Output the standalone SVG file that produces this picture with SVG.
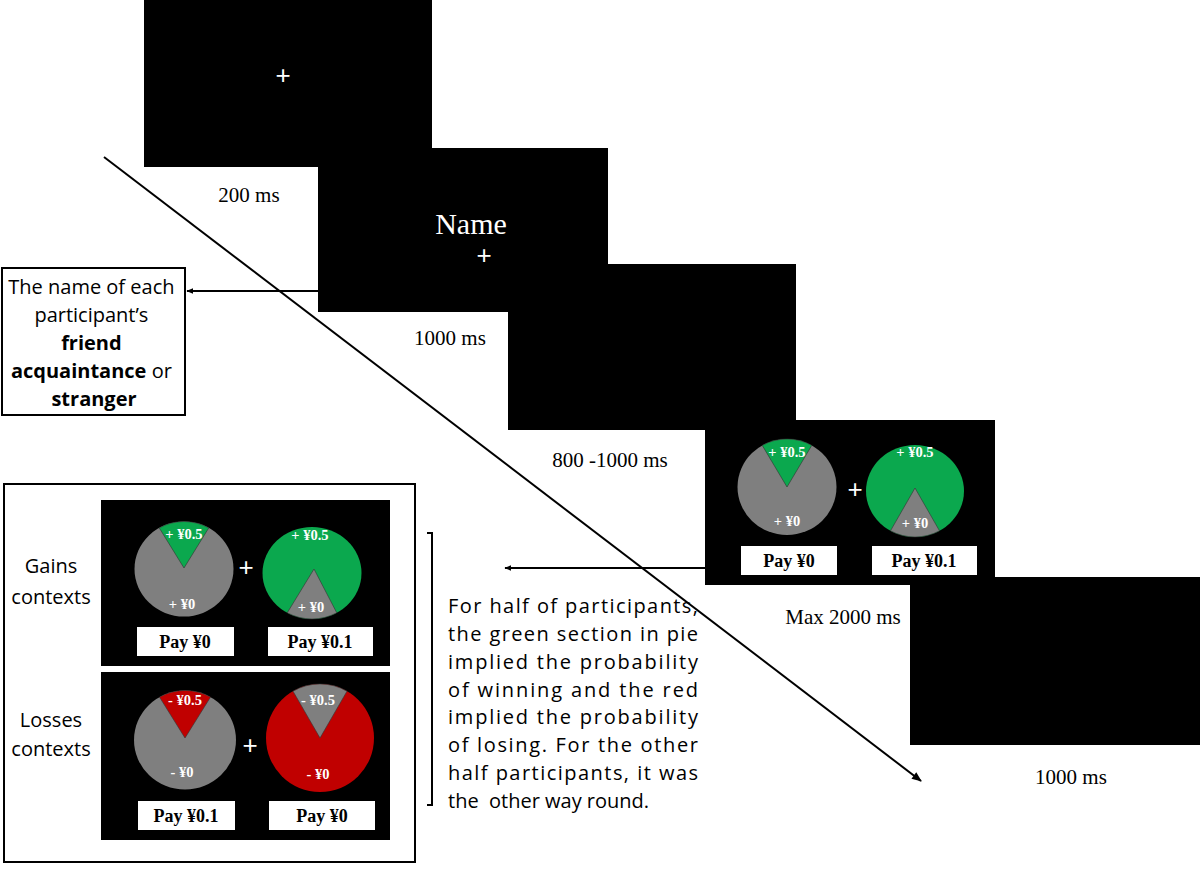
<svg xmlns="http://www.w3.org/2000/svg" width="1200" height="869" viewBox="0 0 1200 869">
<style>
.scr{fill:#000}
.tm{font-family:"Liberation Serif",serif;font-size:21px;fill:#000;text-anchor:middle}
.wp{font-family:"Liberation Serif",serif;fill:#fff;text-anchor:middle}
.plus{font-family:"Liberation Sans",sans-serif;fill:#fff;text-anchor:middle;font-size:26px}
.pl{font-family:"Liberation Serif",serif;font-size:14.5px;font-weight:bold;fill:#fff;text-anchor:middle}
.pay{font-family:"Liberation Serif",serif;font-size:18px;font-weight:bold;fill:#000;text-anchor:middle}
.sans{font-family:"Open Sans","Liberation Sans",sans-serif;font-size:20px;fill:#000}
.grey{fill:#7f7f7f}
.green{fill:#0ba84e;stroke:#333;stroke-width:0.6}
.red{fill:#c00000;stroke:#333;stroke-width:0.6}
.wgrey{fill:#7f7f7f;stroke:#333;stroke-width:0.6}
.wbox{fill:#fff}
.ln{stroke:#000;stroke-width:2;fill:none}
</style>
<defs>
<marker id="ah" viewBox="0 0 10 10" refX="9" refY="5" markerWidth="7" markerHeight="7" orient="auto" markerUnits="userSpaceOnUse">
<path d="M0,1 L10,5 L0,9 Z" fill="#000"/>
</marker>
<marker id="ah2" viewBox="0 0 10 10" refX="9" refY="5" markerWidth="12" markerHeight="10" orient="auto" markerUnits="userSpaceOnUse">
<path d="M0,1 L10,5 L0,9 Z" fill="#000"/>
</marker>
</defs>

<g id="screen1">
<rect class="scr" x="144" y="0" width="288" height="167"/>
<text class="plus" x="283" y="84">+</text>
</g>
<text class="tm" x="249" y="202">200 ms</text>

<g id="screen2">
<rect class="scr" x="318" y="148" width="290" height="164"/>
<text class="wp" x="471" y="234" font-size="30">Name</text>
<text class="plus" x="484" y="264">+</text>
</g>
<text class="tm" x="450" y="345">1000 ms</text>

<g id="screen3">
<rect class="scr" x="508" y="264" width="288" height="166"/>
</g>
<text class="tm" x="610" y="467">800 -1000 ms</text>

<g id="screen4">
<rect class="scr" x="705" y="420" width="290" height="165"/>
<ellipse class="grey" cx="787" cy="487" rx="49.5" ry="48"/>
<path class="green" d="M787,487 L762.25,445.4 A49.5,48 0 0 1 811.75,445.4 Z"/>
<text class="pl" x="787" y="457">+ ¥0.5</text>
<text class="pl" x="787" y="526">+ ¥0</text>
<text class="plus" x="855" y="498">+</text>
<ellipse fill="#0ba84e" cx="915" cy="491" rx="49" ry="46"/>
<path class="wgrey" d="M915,488 L939.5,530.8 A49,46 0 0 1 890.5,530.8 Z"/>
<text class="pl" x="915" y="457">+ ¥0.5</text>
<text class="pl" x="915" y="528">+ ¥0</text>
<rect class="wbox" x="741" y="546" width="96" height="29"/>
<text class="pay" x="789" y="567">Pay ¥0</text>
<rect class="wbox" x="872" y="546" width="105" height="29"/>
<text class="pay" x="924" y="567">Pay ¥0.1</text>
</g>
<text class="tm" x="843" y="624">Max 2000 ms</text>

<g id="screen5">
<rect class="scr" x="910" y="577" width="290" height="168"/>
</g>
<text class="tm" x="1071" y="784">1000 ms</text>

<g id="name-box">
<rect x="2" y="268" width="183" height="147" fill="#fff" stroke="#000" stroke-width="2"/>
<text class="sans" text-anchor="middle">
<tspan x="94" y="294">The name of each</tspan>
<tspan x="94" y="322">participant’s</tspan>
<tspan x="94" y="350" font-weight="bold">friend</tspan>
<tspan x="94" y="378"><tspan font-weight="bold">acquaintance</tspan> or</tspan>
<tspan x="94" y="406" font-weight="bold">stranger</tspan>
</text>
</g>

<g id="contexts-panel">
<rect x="4" y="484" width="411" height="378" fill="#fff" stroke="#000" stroke-width="2"/>
<text class="sans" text-anchor="middle"><tspan x="51" y="573">Gains</tspan><tspan x="51" y="604">contexts</tspan></text>
<text class="sans" text-anchor="middle"><tspan x="51" y="727">Losses</tspan><tspan x="51" y="756">contexts</tspan></text>
</g>

<g id="gains">
<rect class="scr" x="101" y="500" width="289" height="166"/>
<ellipse class="grey" cx="184" cy="569" rx="49.5" ry="47.5"/>
<path class="green" d="M184,568 L159.25,527.9 A49.5,47.5 0 0 1 208.75,527.9 Z"/>
<text class="pl" x="184" y="539">+ ¥0.5</text>
<text class="pl" x="182" y="609">+ ¥0</text>
<text class="plus" x="246" y="576">+</text>
<ellipse fill="#0ba84e" cx="312" cy="573" rx="49.5" ry="46"/>
<path class="wgrey" d="M314,569 L336.75,612.8 A49.5,46 0 0 1 287.25,612.8 Z"/>
<text class="pl" x="310" y="540">+ ¥0.5</text>
<text class="pl" x="311" y="612">+ ¥0</text>
<rect class="wbox" x="137" y="627" width="97" height="29"/>
<text class="pay" x="185" y="648">Pay ¥0</text>
<rect class="wbox" x="268" y="627" width="105" height="29"/>
<text class="pay" x="320" y="648">Pay ¥0.1</text>
</g>

<g id="losses">
<rect class="scr" x="101" y="672" width="289" height="168"/>
<ellipse class="grey" cx="185" cy="740" rx="51" ry="49.5"/>
<path class="red" d="M185,738 L159.5,697.1 A51,49.5 0 0 1 210.5,697.1 Z"/>
<text class="pl" x="185" y="705">- ¥0.5</text>
<text class="pl" x="182" y="777">- ¥0</text>
<text class="plus" x="250" y="754">+</text>
<circle fill="#c00000" cx="320" cy="738" r="54"/>
<path class="wgrey" d="M320,738 L293,691.2 A54,54 0 0 1 347,691.2 Z"/>
<text class="pl" x="318" y="705">- ¥0.5</text>
<text class="pl" x="318" y="779">- ¥0</text>
<rect class="wbox" x="138" y="801" width="97" height="29"/>
<text class="pay" x="186" y="822">Pay ¥0.1</text>
<rect class="wbox" x="269" y="801" width="106" height="29"/>
<text class="pay" x="322" y="822">Pay ¥0</text>
</g>

<g id="note">
<text class="sans">
<tspan x="448" y="613" textLength="250" lengthAdjust="spacing">For half of participants,</tspan>
<tspan x="448" y="641" textLength="250" lengthAdjust="spacing">the green section in pie</tspan>
<tspan x="448" y="669" textLength="250" lengthAdjust="spacing">implied the probability</tspan>
<tspan x="448" y="697" textLength="250" lengthAdjust="spacing">of winning and the red</tspan>
<tspan x="448" y="724" textLength="250" lengthAdjust="spacing">implied the probability</tspan>
<tspan x="448" y="752" textLength="250" lengthAdjust="spacing">of losing. For the other</tspan>
<tspan x="448" y="780" textLength="250" lengthAdjust="spacing">half participants, it was</tspan>
<tspan x="448" y="808">the&#160; other way round.</tspan>
</text>
</g>

<g id="connectors">
<line class="ln" x1="104" y1="157" x2="921" y2="781" marker-end="url(#ah2)"/>
<line class="ln" x1="318" y1="291" x2="187" y2="291" marker-end="url(#ah)"/>
<line class="ln" x1="705" y1="568" x2="505" y2="568" marker-end="url(#ah)"/>
<polyline class="ln" points="427,533 432,533 432,805 427,805"/>
</g>
</svg>
